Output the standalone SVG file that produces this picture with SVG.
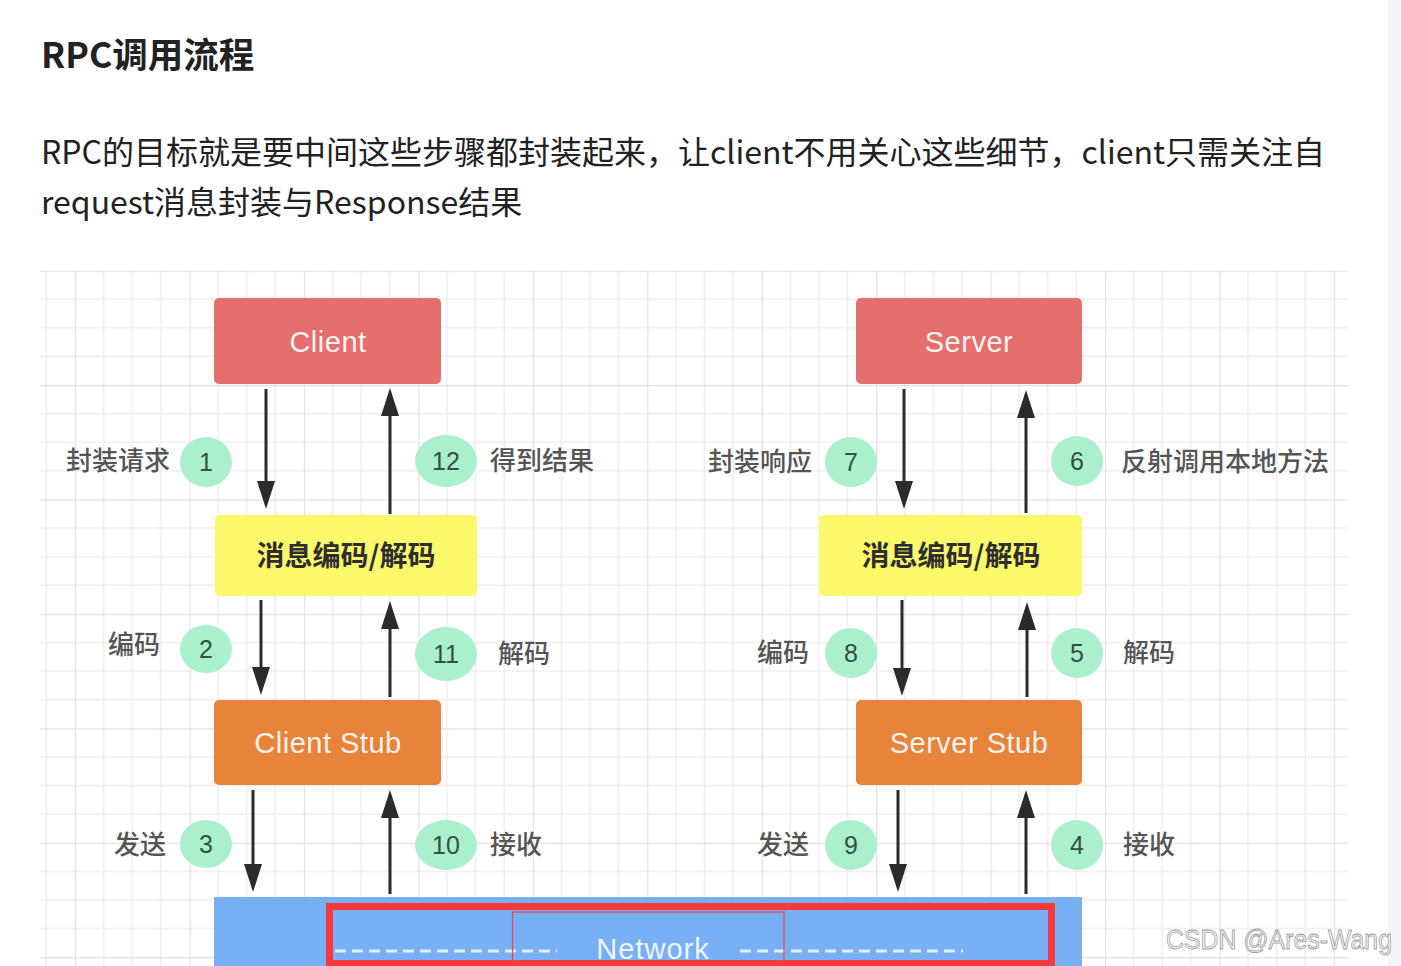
<svg xmlns="http://www.w3.org/2000/svg" width="1401" height="966" viewBox="0 0 1401 966">
  <style>
    .h1 { font-family: "Noto Sans CJK SC", "Noto Sans", sans-serif; font-weight: 700; font-size: 35.5px; fill: #222; }
    .para { font-family: "Noto Sans CJK SC", "Noto Sans", sans-serif; font-size: 32px; fill: #222; }
    .box { stroke: none; }
    .box-title { font-family: "Liberation Sans", Arial, sans-serif; font-size: 29px; fill: #fdf2ef; text-anchor: middle; letter-spacing: 0.5px; }
    .codec-title { font-family: "Noto Sans CJK SC", sans-serif; font-weight: 700; font-size: 28px; fill: #2e2e2e; text-anchor: middle; }
    .badge { fill: #aaf0cd; }
    .badge-num { font-family: "Liberation Sans", Arial, sans-serif; font-size: 25px; fill: #34503f; text-anchor: middle; }
    .step { font-family: "Noto Sans CJK SC", sans-serif; font-weight: 500; font-size: 26px; fill: #555; }
    .flow { stroke: #2b2b2b; stroke-width: 3; fill: none; marker-end: url(#head); }
    .dash { stroke: #e6f0fd; stroke-width: 3; stroke-dasharray: 11 6; }
    .mark-thick { fill: none; stroke: #f33b3b; stroke-width: 7; }
    .mark-thin { fill: none; stroke: #ef4444; stroke-width: 1.2; }
    .wm { font-family: "Liberation Sans", Arial, sans-serif; font-size: 27px; fill: #f4f4f4; stroke: #9c9c9c; stroke-width: 0.8; }
  </style>
  <defs>
    <pattern id="grid" x="75" y="385" width="114.44" height="114.44" patternUnits="userSpaceOnUse">
      <path d="M28.61 0V114.44M57.22 0V114.44M85.83 0V114.44M0 28.61H114.44M0 57.22H114.44M0 85.83H114.44" stroke="#eeeeee" stroke-width="1.6"/>
      <path d="M0 0V114.44M0 0H114.44" stroke="#e1e1e1" stroke-width="2.4"/>
    </pattern>
    <marker id="head" viewBox="0 0 28 18" refX="18" refY="9" markerWidth="28" markerHeight="18" markerUnits="userSpaceOnUse" orient="auto">
      <path d="M0 0L28 9L0 18Z" fill="#2b2b2b"/>
    </marker>
  </defs>

  <!-- page -->
  <rect x="0" y="0" width="1401" height="966" fill="#ffffff"/>
  <rect x="1388" y="0" width="13" height="966" fill="#f4f5f9"/>

  <text class="h1" x="41" y="68">RPC调用流程</text>
  <text class="para" x="41" y="164">RPC的目标就是要中间这些步骤都封装起来，让client不用关心这些细节，client只需关注自</text>
  <text class="para" x="41" y="214">request消息封装与Response结果</text>

  <!-- grid canvas -->
  <rect x="40" y="271" width="1308" height="695" fill="url(#grid)"/>

  <!-- connectors -->
  <g id="connectors">
    <line class="flow" x1="266" y1="389" x2="266" y2="499"/>
    <line class="flow" x1="390" y1="514" x2="390" y2="398"/>
    <line class="flow" x1="261" y1="600" x2="261" y2="685"/>
    <line class="flow" x1="390" y1="697" x2="390" y2="611"/>
    <line class="flow" x1="253" y1="790" x2="253" y2="882"/>
    <line class="flow" x1="390" y1="894" x2="390" y2="800"/>
    <line class="flow" x1="904" y1="389" x2="904" y2="499"/>
    <line class="flow" x1="1026" y1="513" x2="1026" y2="400"/>
    <line class="flow" x1="902" y1="600" x2="902" y2="686"/>
    <line class="flow" x1="1027" y1="697" x2="1027" y2="612"/>
    <line class="flow" x1="898" y1="790" x2="898" y2="882"/>
    <line class="flow" x1="1026" y1="894" x2="1026" y2="800"/>
  </g>

  <!-- client side -->
  <g id="node-client">
    <rect class="box" x="214" y="298" width="227" height="86" rx="5" fill="#e56f6c"/>
    <text class="box-title" x="328" y="352">Client</text>
  </g>
  <g id="node-client-codec">
    <rect class="box" x="215" y="515" width="262" height="81" rx="5" fill="#fbf86a"/>
    <text class="codec-title" x="346" y="566">消息编码/解码</text>
  </g>
  <g id="node-client-stub">
    <rect class="box" x="214" y="700" width="227" height="85" rx="5" fill="#e8833a"/>
    <text class="box-title" x="328" y="753">Client Stub</text>
  </g>

  <!-- server side -->
  <g id="node-server">
    <rect class="box" x="856" y="298" width="226" height="86" rx="5" fill="#e56f6c"/>
    <text class="box-title" x="969" y="352">Server</text>
  </g>
  <g id="node-server-codec">
    <rect class="box" x="819" y="515" width="263" height="81" rx="5" fill="#fbf86a"/>
    <text class="codec-title" x="951" y="566">消息编码/解码</text>
  </g>
  <g id="node-server-stub">
    <rect class="box" x="856" y="700" width="226" height="85" rx="5" fill="#e8833a"/>
    <text class="box-title" x="969" y="753">Server Stub</text>
  </g>

  <!-- network -->
  <g id="node-network">
    <rect class="box" x="214" y="897" width="868" height="80" fill="#78aff5"/>
    <line class="dash" x1="335" y1="951" x2="557" y2="951"/>
    <line class="dash" x1="740" y1="951" x2="963" y2="951"/>
    <text class="box-title" x="653" y="959" style="fill:#eef5fe;letter-spacing:1px">Network</text>
  </g>

  <!-- numbered steps -->
  <g id="step-1">
    <ellipse class="badge" cx="206" cy="462" rx="26" ry="25"/>
    <text class="badge-num" x="206" y="471">1</text>
    <text class="step" x="170" y="470" text-anchor="end">封装请求</text>
  </g>
  <g id="step-2">
    <ellipse class="badge" cx="206" cy="649" rx="26" ry="24"/>
    <text class="badge-num" x="206" y="658">2</text>
    <text class="step" x="160" y="654" text-anchor="end">编码</text>
  </g>
  <g id="step-3">
    <ellipse class="badge" cx="206" cy="844" rx="26" ry="24"/>
    <text class="badge-num" x="206" y="853">3</text>
    <text class="step" x="166" y="854" text-anchor="end">发送</text>
  </g>
  <g id="step-4">
    <ellipse class="badge" cx="1077" cy="845" rx="26" ry="25"/>
    <text class="badge-num" x="1077" y="854">4</text>
    <text class="step" x="1123" y="854">接收</text>
  </g>
  <g id="step-5">
    <ellipse class="badge" cx="1077" cy="653" rx="26" ry="25"/>
    <text class="badge-num" x="1077" y="662">5</text>
    <text class="step" x="1123" y="662">解码</text>
  </g>
  <g id="step-6">
    <ellipse class="badge" cx="1077" cy="461" rx="26" ry="25"/>
    <text class="badge-num" x="1077" y="470">6</text>
    <text class="step" x="1121" y="471">反射调用本地方法</text>
  </g>
  <g id="step-7">
    <ellipse class="badge" cx="851" cy="462" rx="26" ry="25"/>
    <text class="badge-num" x="851" y="471">7</text>
    <text class="step" x="812" y="471" text-anchor="end">封装响应</text>
  </g>
  <g id="step-8">
    <ellipse class="badge" cx="851" cy="653" rx="26" ry="25"/>
    <text class="badge-num" x="851" y="662">8</text>
    <text class="step" x="809" y="662" text-anchor="end">编码</text>
  </g>
  <g id="step-9">
    <ellipse class="badge" cx="851" cy="845" rx="26" ry="25"/>
    <text class="badge-num" x="851" y="854">9</text>
    <text class="step" x="809" y="854" text-anchor="end">发送</text>
  </g>
  <g id="step-10">
    <ellipse class="badge" cx="446" cy="845" rx="31" ry="25"/>
    <text class="badge-num" x="446" y="854">10</text>
    <text class="step" x="490" y="854">接收</text>
  </g>
  <g id="step-11">
    <ellipse class="badge" cx="446" cy="654" rx="31" ry="27"/>
    <text class="badge-num" x="446" y="663">11</text>
    <text class="step" x="498" y="663">解码</text>
  </g>
  <g id="step-12">
    <ellipse class="badge" cx="446" cy="461" rx="31" ry="26"/>
    <text class="badge-num" x="446" y="470">12</text>
    <text class="step" x="490" y="470">得到结果</text>
  </g>

  <!-- highlight frames over the network bar -->
  <g id="highlight">
    <rect class="mark-thick" x="329.5" y="906.5" width="722" height="57"/>
    <rect class="mark-thin" x="512.5" y="912" width="271.5" height="51"/>
  </g>

  <!-- watermark -->
  <text class="wm" x="1166" y="949" textLength="226" lengthAdjust="spacingAndGlyphs">CSDN @Ares-Wang</text>
</svg>
